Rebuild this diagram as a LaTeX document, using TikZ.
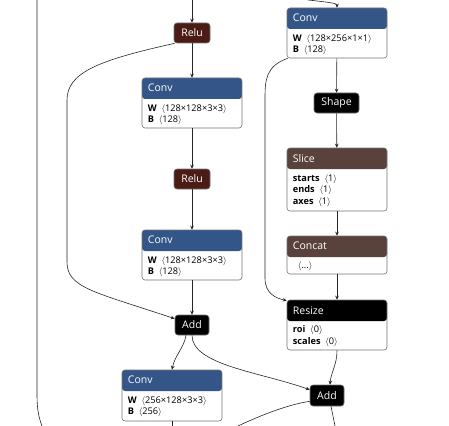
\documentclass[tikz,border=0pt]{standalone}
\usepackage{fontspec}
\setmainfont{Open Sans}
\usepackage{tikz}
\usetikzlibrary{arrows.meta}

\definecolor{convcol}{RGB}{51,85,136}
\definecolor{relucol}{RGB}{75,27,22}
\definecolor{tensorcol}{RGB}{89,66,59}

\tikzset{
  opbox/.style={draw=black!55, line width=0.6pt, rounded corners=3pt, fill=white,
    minimum width=100pt, inner sep=0pt,
    path picture={\fill[#1] (path picture bounding box.north west) rectangle ([yshift=-21pt]path picture bounding box.north east);}},
  opsmall/.style={fill=#1, draw=black!55, line width=0.6pt, rounded corners=3pt, text=white,
    font=\fontsize{10.5}{12}\selectfont, minimum height=20pt, inner sep=0pt},
  hdr/.style={text=white, font=\fontsize{10.5}{12}\selectfont, anchor=west, inner sep=0pt},
  attrs/.style={font=\fontsize{9.2}{11.8}\selectfont, align=left, anchor=north west, inner sep=0pt},
  edge/.style={draw=black!85, line width=0.6pt, -{Stealth[length=4pt,width=3.6pt]}},
  wire/.style={draw=black!85, line width=0.6pt},
}

\begin{document}
\begin{tikzpicture}[x=1pt,y=-1pt]
      \useasboundingbox (0,0) rectangle (449,425);
      % left column
      \node[opsmall=relucol, minimum width=36pt] (reluA) at (192,33) {Relu};
      \node[opbox=convcol, minimum height=50pt] (convA) at (192,103) {};
      \node[opsmall=relucol, minimum width=36pt] (reluB) at (192,179) {Relu};
      \node[opbox=convcol, minimum height=50pt] (convB) at (192,255) {};
      \node[opsmall=black, minimum width=34pt] (addA) at (192,325) {Add};
      \node[opbox=convcol, minimum height=51pt] (convC) at (172,395.5) {};
      % right column
      \node[opbox=convcol, minimum height=50pt] (convD) at (337,33) {};
      \node[opsmall=black, minimum width=45pt] (shapeA) at (336.5,103) {Shape};
      \node[opbox=tensorcol, minimum height=63pt] (sliceA) at (337,179.5) {};
      \node[opbox=tensorcol, minimum height=38pt] (concatA) at (337,255) {};
      \node[opbox=black, minimum height=50pt] (resizeA) at (337,325) {};
      \node[opsmall=black, minimum width=34pt, minimum height=21pt] (addB) at (327,395.5) {Add};

      % headers and attributes
      \node[hdr] (convAh) at ([xshift=6pt,yshift=-10.5pt]convA.north west) {Conv};
      \node[attrs] (convAt) at ([xshift=6pt,yshift=-26.5pt]convA.north west) {\textbf{W} ~$\langle$128×128×3×3$\rangle$\\\textbf{B} ~$\langle$128$\rangle$};
      \node[hdr] (convBh) at ([xshift=6pt,yshift=-10.5pt]convB.north west) {Conv};
      \node[attrs] (convBt) at ([xshift=6pt,yshift=-26.5pt]convB.north west) {\textbf{W} ~$\langle$128×128×3×3$\rangle$\\\textbf{B} ~$\langle$128$\rangle$};
      \node[hdr] (convCh) at ([xshift=6pt,yshift=-10.5pt]convC.north west) {Conv};
      \node[attrs] (convCt) at ([xshift=6pt,yshift=-26.5pt]convC.north west) {\textbf{W} ~$\langle$256×128×3×3$\rangle$\\\textbf{B} ~$\langle$256$\rangle$};
      \node[hdr] (convDh) at ([xshift=6pt,yshift=-10.5pt]convD.north west) {Conv};
      \node[attrs] (convDt) at ([xshift=6pt,yshift=-26.5pt]convD.north west) {\textbf{W} ~$\langle$128×256×1×1$\rangle$\\\textbf{B} ~$\langle$128$\rangle$};
      \node[hdr] (sliceAh) at ([xshift=6pt,yshift=-10.5pt]sliceA.north west) {Slice};
      \node[attrs] (sliceAt) at ([xshift=6pt,yshift=-26.5pt]sliceA.north west) {\textbf{starts} ~$\langle$1$\rangle$\\\textbf{ends} ~$\langle$1$\rangle$\\\textbf{axes} ~$\langle$1$\rangle$};
      \node[hdr] (concatAh) at ([xshift=6pt,yshift=-10.5pt]concatA.north west) {Concat};
      \node[attrs] (concatAt) at ([xshift=11pt,yshift=-26pt]concatA.north west) {$\langle$...$\rangle$};
      \node[hdr] (resizeAh) at ([xshift=6pt,yshift=-10.5pt]resizeA.north west) {Resize};
      \node[attrs] (resizeAt) at ([xshift=6pt,yshift=-26pt]resizeA.north west) {\textbf{roi} ~$\langle$0$\rangle$\\\textbf{scales} ~$\langle$0$\rangle$};

      % loose ends
      \coordinate (leftT) at (37,0);
      \coordinate (leftB) at (42,426);
      \coordinate (topA) at (192,0);
      \coordinate (topD) at (308,0);
      \coordinate (botC) at (172,426);
      \coordinate (botB1) at (238,426);
      \coordinate (botB2) at (335,426);

      \draw[wire] (leftT) -- (37,395) .. controls (37,410) and (39,418) .. (leftB);
      \draw[edge] (topA) -- (reluA);
      \draw[edge] (topD) .. controls (326,2) and (337,3) .. (convD.north);
      \draw[edge] (reluA) -- (convA);
      \draw[edge] (convA) -- (reluB);
      \draw[edge] (reluB) -- (convB);
      \draw[edge] (convB) -- (addA);
      \draw[edge] ([xshift=1pt]reluA.south west) .. controls (100,60) and (67,72) .. (67,100)
        -- (67,262) .. controls (67,288) and (95,292) .. ([yshift=-4pt]addA.north west);
      \draw[edge] ([xshift=-6pt]addA.south) .. controls (184,348) and (175,355) .. ([yshift=0pt]convC.north);
      \draw[edge] (addA.south) .. controls (192,365) and (260,372) .. ([yshift=-5pt]addB.north west);
      \draw[edge] (convD) -- (shapeA);
      \draw[edge] (shapeA) -- (sliceA);
      \draw[edge] (sliceA) -- (concatA);
      \draw[edge] (concatA) -- (resizeA);
      \draw[edge] ([xshift=1pt]convD.south west) .. controls (266,66) and (265,80) .. (265,98)
        -- (265,278) .. controls (265,294) and (276,298) .. ([yshift=-1pt]resizeA.north west);
      \draw[edge] (resizeA.south) .. controls (337,365) and (331,372) .. ([xshift=3pt]addB.north);
      \draw[wire] (convC.south) -- (botC);
      \draw[wire] ([yshift=5pt]addB.south west) .. controls (285,405) and (255,418) .. (botB1);
      \draw[wire] ([xshift=4pt]addB.south) -- (botB2);
\end{tikzpicture}
\end{document}
